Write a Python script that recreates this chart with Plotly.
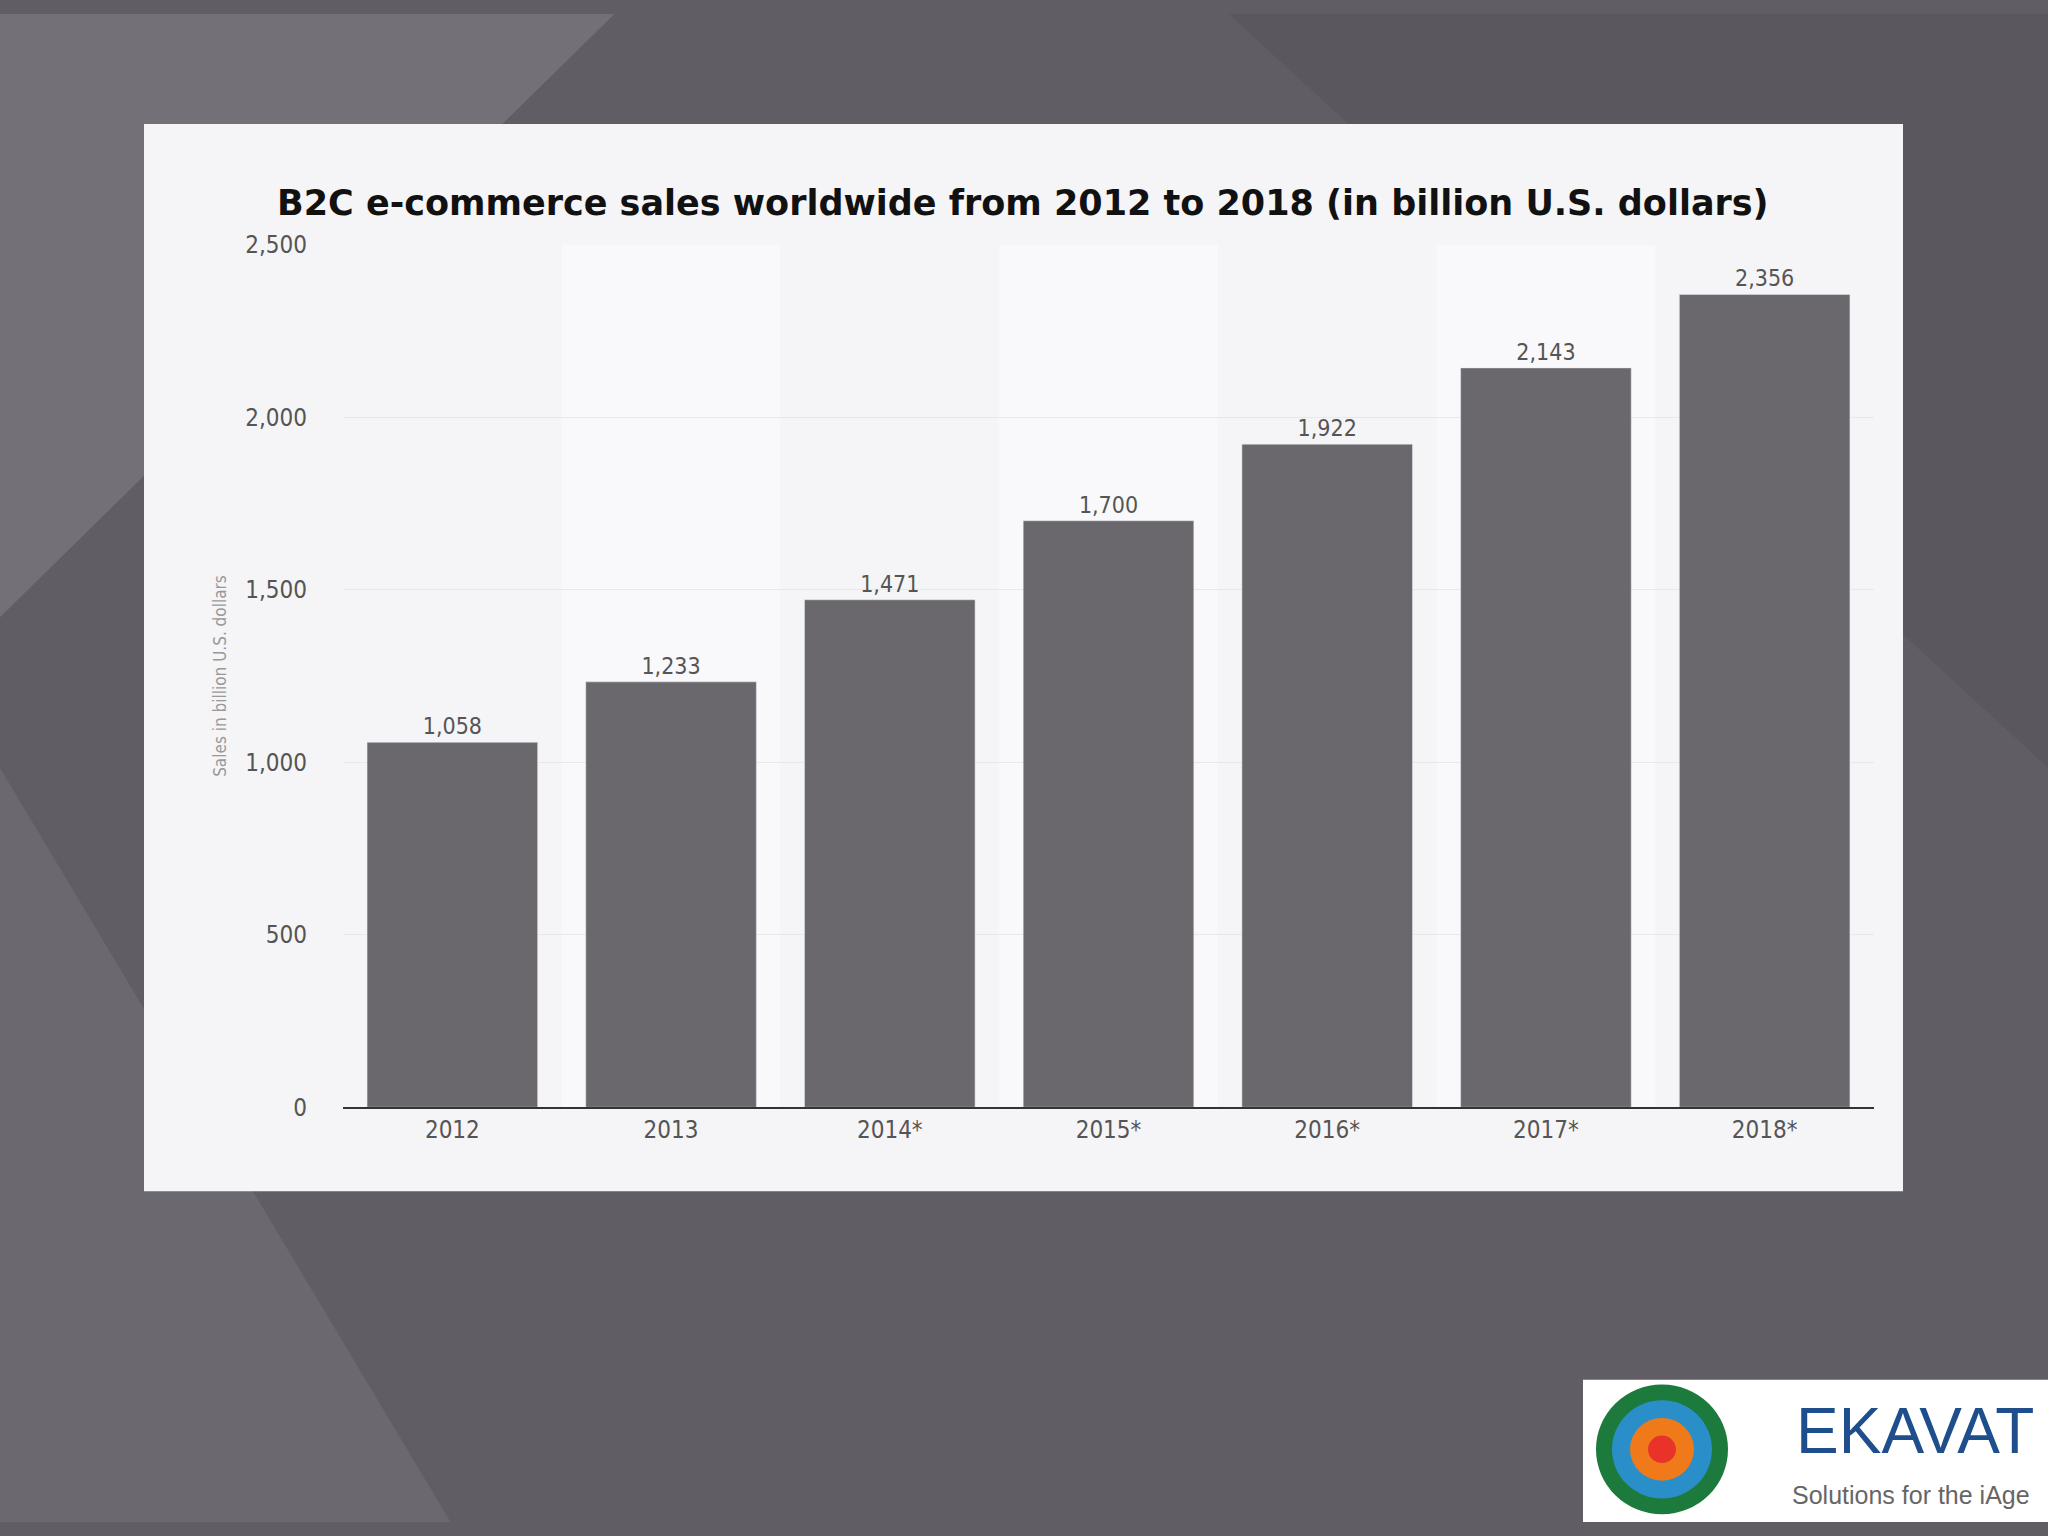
import plotly.graph_objects as go

years = ["2012", "2013", "2014*", "2015*", "2016*", "2017*", "2018*"]
sales = [1058, 1233, 1471, 1700, 1922, 2143, 2356]
labels = ["1,058", "1,233", "1,471", "1,700", "1,922", "2,143", "2,356"]

BAR = "#6b686d"
TXT = "#555555"

fig = go.Figure(go.Bar(
    x=years, y=sales, text=labels, textposition="outside",
    textfont=dict(size=23, color=TXT, family="DejaVu Sans Condensed"),
    marker_color=BAR, width=0.78, cliponaxis=False, showlegend=False,
))

shapes = [
    # background streaks
    dict(type="path", xref="paper", yref="paper", layer="below",
         path="M 0 1 L 0.3 1 L 0 0.6 Z", fillcolor="rgba(255,255,255,0.12)", line_width=0),
    dict(type="path", xref="paper", yref="paper", layer="below",
         path="M 0 0.5 L 0.22 0 L 0 0 Z", fillcolor="rgba(255,255,255,0.07)", line_width=0),
    dict(type="path", xref="paper", yref="paper", layer="below",
         path="M 0.6 1 L 1 1 L 1 0.5 Z", fillcolor="rgba(0,0,0,0.06)", line_width=0),
    # white chart panel
    dict(type="rect", xref="paper", yref="paper", layer="below",
         x0=144/2048, x1=1903/2048, y0=1-1199/1536, y1=1-112/1536,
         fillcolor="#f5f4f6", line_width=0),
    # logo box
    dict(type="rect", xref="paper", yref="paper",
         x0=1583/2048, x1=1, y0=0, y1=1-1391/1536,
         fillcolor="white", line_width=0),
]
# alternating column shading
for i in range(len(years)):
    if i % 2 == 1:
        shapes.append(dict(type="rect", xref="x", yref="paper", layer="below",
                           x0=i-0.5, x1=i+0.5, y0=0.275, y1=0.847,
                           fillcolor="#f9f8fa", line_width=0))
# logo flower
for r, c in [(66, "#1b7a3c"), (50, "#2a8fc9"), (32, "#f07a1a"), (14, "#e8322a")]:
    cx, cy = 1662, 1462
    shapes.append(dict(type="circle", xref="paper", yref="paper",
                       x0=(cx-r)/2048, x1=(cx+r)/2048,
                       y0=1-(cy+r)/1536, y1=1-(cy-r)/1536,
                       fillcolor=c, line_width=0))

fig.update_layout(
    autosize=True, margin=dict(l=0, r=0, t=0, b=0),
    paper_bgcolor="#605d65", plot_bgcolor="rgba(0,0,0,0)",
    shapes=shapes, bargap=0.22,
    xaxis=dict(domain=[343/2048, 1874/2048], showline=True, linecolor="#333333", linewidth=2,
               tickfont=dict(size=24, color=TXT, family="DejaVu Sans Condensed"), ticks=""),
    yaxis=dict(domain=[0.275, 0.847], range=[0, 2500], tickvals=[0, 500, 1000, 1500, 2000, 2500],
               ticktext=["0", "500", "1,000", "1,500", "2,000", "2,500"],
               tickfont=dict(size=24, color=TXT, family="DejaVu Sans Condensed"),
               gridcolor="#e8e7ea", zeroline=False, ticklabelstandoff=35,
               title=dict(text="Sales in billion U.S. dollars", standoff=14,
                          font=dict(size=17, color="#999999", family="DejaVu Sans Condensed"))),
    annotations=[
        dict(text="<b>B2C e-commerce sales worldwide from 2012 to 2018 (in billion U.S. dollars)</b>",
             x=1023/2048, y=1-170/1536, xref="paper", yref="paper",
             showarrow=False, font=dict(size=35, color="#111111", family="DejaVu Sans")),
        dict(text="EKAVAT", x=2036/2048, y=1-1443/1536, xref="paper", yref="paper",
             xanchor="right", yanchor="middle", showarrow=False,
             font=dict(size=64, color="#1f4e8c", family="Liberation Sans")),
        dict(text="Solutions for the iAge", x=2032/2048, y=1-1508/1536, xref="paper", yref="paper",
             xanchor="right", yanchor="middle", showarrow=False,
             font=dict(size=25, color="#666666", family="Liberation Sans")),
    ],
)

fig.write_html("out.html", default_width="100vw", default_height="100vh",
               config={"displayModeBar": False},
               post_script="document.body.style.margin='0';")
